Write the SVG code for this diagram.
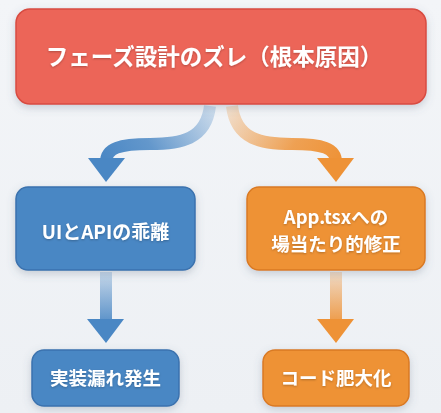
<svg xmlns="http://www.w3.org/2000/svg" width="441" height="413" viewBox="0 0 441 413">
<defs>
<linearGradient id="bg" x1="0" y1="0" x2="0" y2="1"><stop offset="0" stop-color="#F3F5F8"/><stop offset="1" stop-color="#EDF0F4"/></linearGradient>
<filter id="sh" x="-20%" y="-20%" width="140%" height="150%"><feDropShadow dx="0" dy="3" stdDeviation="4" flood-color="#5a6a80" flood-opacity="0.28"/></filter>
<filter id="ts" x="-10%" y="-30%" width="120%" height="160%"><feDropShadow dx="0" dy="1" stdDeviation="0.8" flood-color="#000" flood-opacity="0.25"/></filter>
<linearGradient id="gb1" gradientUnits="userSpaceOnUse" x1="210" y1="108" x2="110" y2="170"><stop offset="0" stop-color="#4A87C4" stop-opacity="0.25"/><stop offset="0.6" stop-color="#4A87C4" stop-opacity="0.85"/><stop offset="1" stop-color="#4A87C4"/></linearGradient>
<linearGradient id="go1" gradientUnits="userSpaceOnUse" x1="232" y1="108" x2="335" y2="170"><stop offset="0" stop-color="#EE9236" stop-opacity="0.25"/><stop offset="0.6" stop-color="#EE9236" stop-opacity="0.85"/><stop offset="1" stop-color="#EE9236"/></linearGradient>
<linearGradient id="gb2" gradientUnits="userSpaceOnUse" x1="0" y1="272" x2="0" y2="330"><stop offset="0" stop-color="#4A87C4" stop-opacity="0.25"/><stop offset="1" stop-color="#4A87C4"/></linearGradient>
<linearGradient id="go2" gradientUnits="userSpaceOnUse" x1="0" y1="272" x2="0" y2="330"><stop offset="0" stop-color="#EE9236" stop-opacity="0.25"/><stop offset="1" stop-color="#EE9236"/></linearGradient>
</defs>
<style>
.t{font-family:"Noto Sans CJK JP","Noto Sans",sans-serif;font-weight:700;fill:#fff;text-anchor:middle;filter:url(#ts)}
.red{fill:#EC6559;stroke:#D84B40;stroke-width:1.5}
.blue{fill:#4A87C4;stroke:#3A72AE;stroke-width:1.5}
.orange{fill:#EE9236;stroke:#D97A22;stroke-width:1.5}
</style>
<rect width="441" height="413" fill="url(#bg)"/>
<g id="connectors">
<path d="M210,106 C206,140 180,144 150,144 C120,144 106,148 106,162" fill="none" stroke="url(#gb1)" stroke-width="12"/>
<polygon points="88,158 125,158 106,182" fill="#4A87C4"/>
<path d="M232,106 C236,140 262,144 292,144 C322,144 336,148 336,162" fill="none" stroke="url(#go1)" stroke-width="12"/>
<polygon points="317,158 354,158 336,182" fill="#EE9236"/>
<rect x="100" y="272" width="12" height="50" fill="url(#gb2)"/>
<polygon points="87,319 124,319 106,343" fill="#4A87C4"/>
<rect x="330" y="272" width="12" height="50" fill="url(#go2)"/>
<polygon points="317,319 354,319 336,343" fill="#EE9236"/>
</g>
<g id="root">
<rect class="red" x="16" y="9" width="410" height="95" rx="14" filter="url(#sh)"/>
<text class="t" x="214" y="64.5" font-size="22.5">フェーズ設計のズレ（根本原因）</text>
</g>
<g id="ui-api">
<rect class="blue" x="16" y="187" width="179" height="83" rx="12" filter="url(#sh)"/>
<text class="t" x="105.5" y="239" font-size="19">UIとAPIの乖離</text>
</g>
<g id="app-tsx">
<rect class="orange" x="247" y="187" width="178" height="83" rx="12" filter="url(#sh)"/>
<text class="t" x="336" y="224" font-size="18.5">App.tsxへの</text>
<text class="t" x="336" y="251" font-size="18.5">場当たり的修正</text>
</g>
<g id="impl-miss">
<rect class="blue" x="32" y="350" width="147" height="56" rx="12" filter="url(#sh)"/>
<text class="t" x="105.5" y="384.5" font-size="18.5">実装漏れ発生</text>
</g>
<g id="code-bloat">
<rect class="orange" x="263" y="350" width="146" height="56" rx="12" filter="url(#sh)"/>
<text class="t" x="336" y="384.5" font-size="18.5">コード肥大化</text>
</g>
</svg>
